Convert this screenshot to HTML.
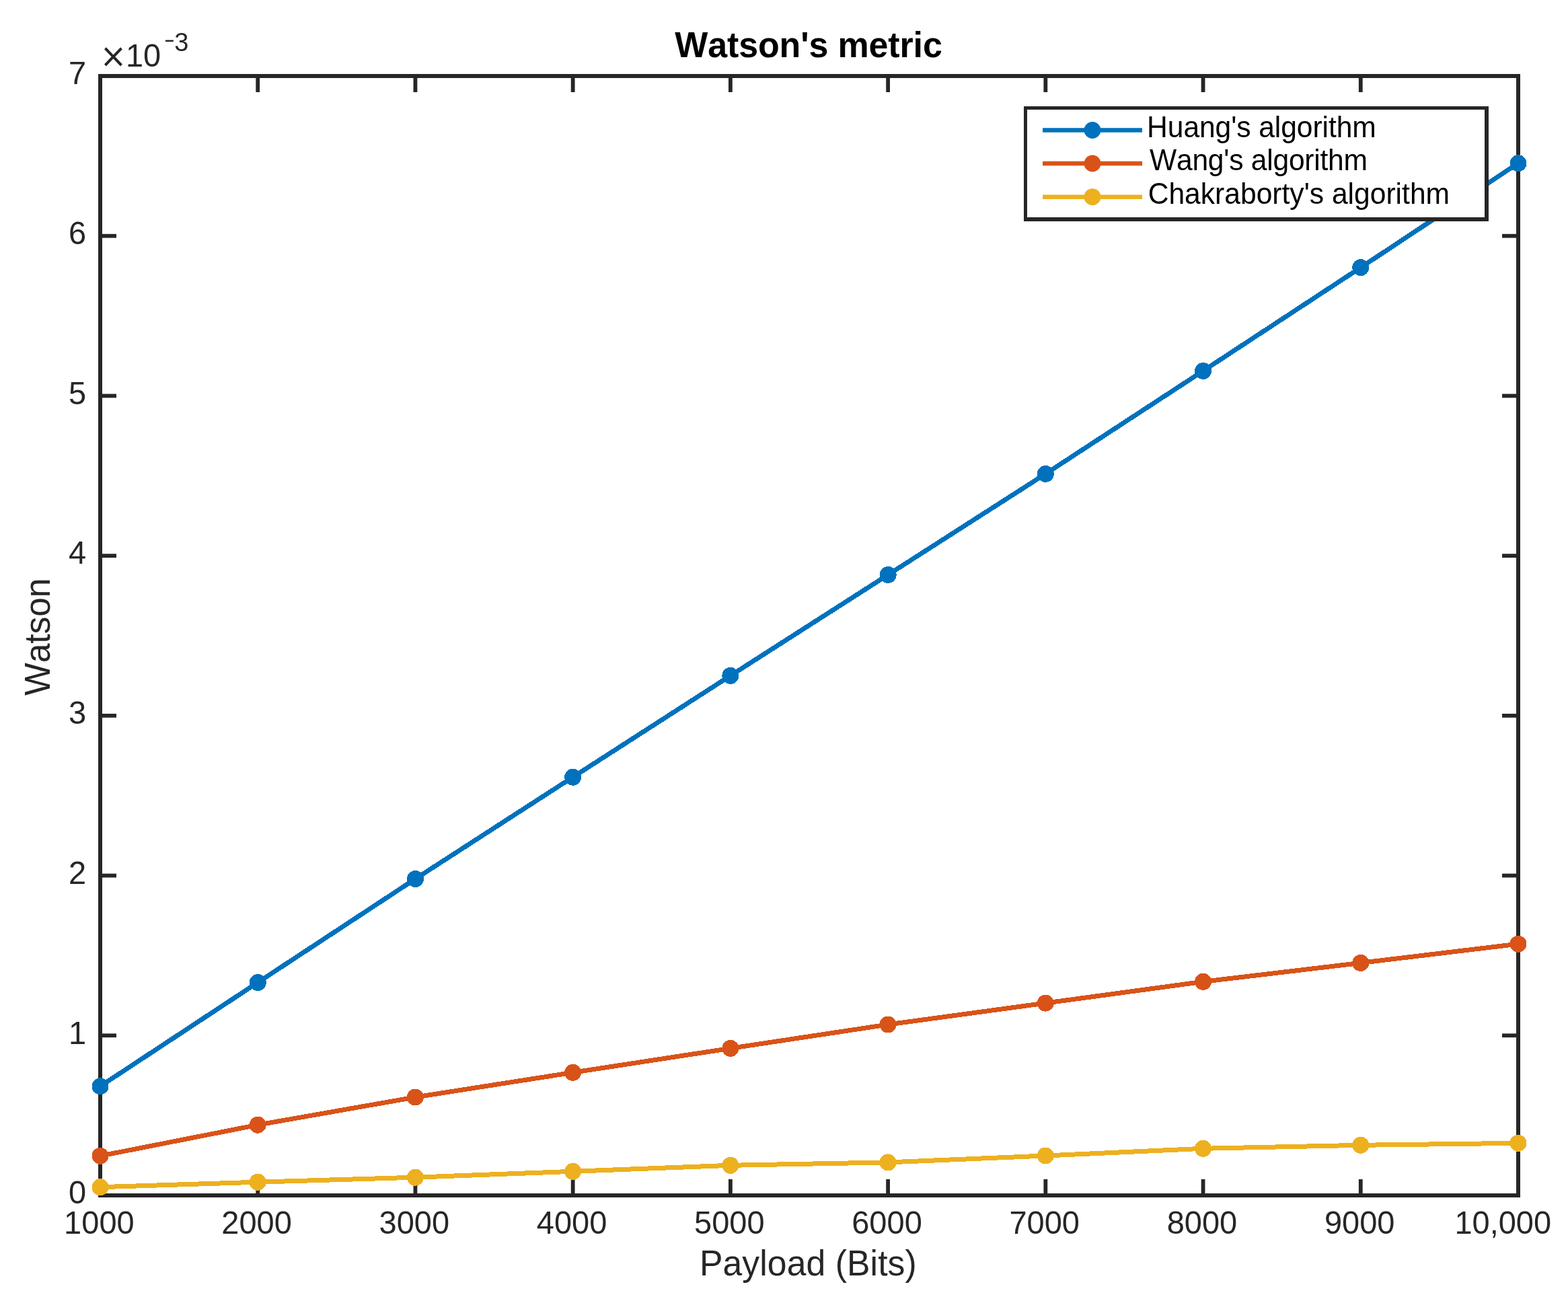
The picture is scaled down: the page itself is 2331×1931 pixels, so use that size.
<!DOCTYPE html>
<html lang="en"><head><meta charset="utf-8"><title>Watson's metric</title>
<style>
html,body{margin:0;padding:0;background:#fff;}
body{width:2331px;height:1931px;overflow:hidden;}
svg{display:block;}
text{font-family:"Liberation Sans",sans-serif;font-kerning:none;font-variant-ligatures:none;white-space:pre;}
.t{font-size:47px;fill:#262626;}
.l{font-size:51.7px;fill:#262626;}
.g{font-size:42.6px;fill:#000;}
.ttl{font-size:52px;font-weight:bold;fill:#000;}
.x{font-family:"DejaVu Sans","Liberation Sans",sans-serif;font-size:47.6px;fill:#262626;}
.e{font-size:38px;fill:#262626;}
</style></head><body>
<svg width="2331" height="1931" viewBox="0 0 2331 1931">
<rect x="0" y="0" width="2331" height="1931" fill="#fff"/>
<g stroke="#262626" stroke-width="5.8" fill="none">
<line x1="383.22" y1="1777.00" x2="383.22" y2="1753.00"/>
<line x1="383.22" y1="113.00" x2="383.22" y2="137.00"/>
<line x1="617.44" y1="1777.00" x2="617.44" y2="1753.00"/>
<line x1="617.44" y1="113.00" x2="617.44" y2="137.00"/>
<line x1="851.67" y1="1777.00" x2="851.67" y2="1753.00"/>
<line x1="851.67" y1="113.00" x2="851.67" y2="137.00"/>
<line x1="1085.89" y1="1777.00" x2="1085.89" y2="1753.00"/>
<line x1="1085.89" y1="113.00" x2="1085.89" y2="137.00"/>
<line x1="1320.11" y1="1777.00" x2="1320.11" y2="1753.00"/>
<line x1="1320.11" y1="113.00" x2="1320.11" y2="137.00"/>
<line x1="1554.33" y1="1777.00" x2="1554.33" y2="1753.00"/>
<line x1="1554.33" y1="113.00" x2="1554.33" y2="137.00"/>
<line x1="1788.56" y1="1777.00" x2="1788.56" y2="1753.00"/>
<line x1="1788.56" y1="113.00" x2="1788.56" y2="137.00"/>
<line x1="2022.78" y1="1777.00" x2="2022.78" y2="1753.00"/>
<line x1="2022.78" y1="113.00" x2="2022.78" y2="137.00"/>
<line x1="149.00" y1="1539.29" x2="173.00" y2="1539.29"/>
<line x1="2257.00" y1="1539.29" x2="2233.00" y2="1539.29"/>
<line x1="149.00" y1="1301.57" x2="173.00" y2="1301.57"/>
<line x1="2257.00" y1="1301.57" x2="2233.00" y2="1301.57"/>
<line x1="149.00" y1="1063.86" x2="173.00" y2="1063.86"/>
<line x1="2257.00" y1="1063.86" x2="2233.00" y2="1063.86"/>
<line x1="149.00" y1="826.14" x2="173.00" y2="826.14"/>
<line x1="2257.00" y1="826.14" x2="2233.00" y2="826.14"/>
<line x1="149.00" y1="588.43" x2="173.00" y2="588.43"/>
<line x1="2257.00" y1="588.43" x2="2233.00" y2="588.43"/>
<line x1="149.00" y1="350.71" x2="173.00" y2="350.71"/>
<line x1="2257.00" y1="350.71" x2="2233.00" y2="350.71"/>
</g>
<rect x="149" y="113" width="2108" height="1664" fill="none" stroke="#262626" stroke-width="6"/>
<polyline points="149.00,1614.80 383.22,1460.50 617.44,1306.50 851.67,1155.20 1085.89,1004.40 1320.11,854.50 1554.33,704.40 1788.56,551.40 2022.78,397.70 2257.00,242.70" fill="none" stroke="#0072BD" stroke-width="7" stroke-linejoin="round" shape-rendering="crispEdges"/>
<polyline points="149.00,1718.30 383.22,1672.20 617.44,1631.00 851.67,1594.30 1085.89,1558.40 1320.11,1523.00 1554.33,1491.10 1788.56,1459.30 2022.78,1431.40 2257.00,1403.20" fill="none" stroke="#D95319" stroke-width="7" stroke-linejoin="round" shape-rendering="crispEdges"/>
<polyline points="149.00,1764.70 383.22,1757.20 617.44,1750.20 851.67,1741.30 1085.89,1732.30 1320.11,1727.90 1554.33,1718.00 1788.56,1707.30 2022.78,1702.30 2257.00,1699.30" fill="none" stroke="#EDB120" stroke-width="7" stroke-linejoin="round" shape-rendering="crispEdges"/>
<g fill="#0072BD" shape-rendering="crispEdges">
<circle cx="149.00" cy="1614.80" r="12.5"/>
<circle cx="383.22" cy="1460.50" r="12.5"/>
<circle cx="617.44" cy="1306.50" r="12.5"/>
<circle cx="851.67" cy="1155.20" r="12.5"/>
<circle cx="1085.89" cy="1004.40" r="12.5"/>
<circle cx="1320.11" cy="854.50" r="12.5"/>
<circle cx="1554.33" cy="704.40" r="12.5"/>
<circle cx="1788.56" cy="551.40" r="12.5"/>
<circle cx="2022.78" cy="397.70" r="12.5"/>
<circle cx="2257.00" cy="242.70" r="12.5"/>
</g>
<g fill="#D95319" shape-rendering="crispEdges">
<circle cx="149.00" cy="1718.30" r="12.5"/>
<circle cx="383.22" cy="1672.20" r="12.5"/>
<circle cx="617.44" cy="1631.00" r="12.5"/>
<circle cx="851.67" cy="1594.30" r="12.5"/>
<circle cx="1085.89" cy="1558.40" r="12.5"/>
<circle cx="1320.11" cy="1523.00" r="12.5"/>
<circle cx="1554.33" cy="1491.10" r="12.5"/>
<circle cx="1788.56" cy="1459.30" r="12.5"/>
<circle cx="2022.78" cy="1431.40" r="12.5"/>
<circle cx="2257.00" cy="1403.20" r="12.5"/>
</g>
<g fill="#EDB120" shape-rendering="crispEdges">
<circle cx="149.00" cy="1764.70" r="12.5"/>
<circle cx="383.22" cy="1757.20" r="12.5"/>
<circle cx="617.44" cy="1750.20" r="12.5"/>
<circle cx="851.67" cy="1741.30" r="12.5"/>
<circle cx="1085.89" cy="1732.30" r="12.5"/>
<circle cx="1320.11" cy="1727.90" r="12.5"/>
<circle cx="1554.33" cy="1718.00" r="12.5"/>
<circle cx="1788.56" cy="1707.30" r="12.5"/>
<circle cx="2022.78" cy="1702.30" r="12.5"/>
<circle cx="2257.00" cy="1699.30" r="12.5"/>
</g>
<rect x="1522" y="158" width="691" height="171" fill="#fff"/>
<path d="M1522 158H2213V329H1522Z M1527 163V323H2207V163Z" fill="#262626" fill-rule="evenodd"/>
<line x1="1550" y1="193.5" x2="1698" y2="193.5" stroke="#0072BD" stroke-width="6.5"/>
<circle cx="1624" cy="193.5" r="12.5" fill="#0072BD"/>
<text class="g" transform="translate(1705.11,204.00) scale(1,1.02)" style="letter-spacing:-0.075px">Huang's algorithm</text>
<line x1="1550" y1="243" x2="1698" y2="243" stroke="#D95319" stroke-width="6.5"/>
<circle cx="1624" cy="243" r="12.5" fill="#D95319"/>
<text class="g" transform="translate(1709.01,253.10) scale(1,1.02)" style="letter-spacing:-0.244px">Wang's algorithm</text>
<line x1="1550" y1="292.7" x2="1698" y2="292.7" stroke="#EDB120" stroke-width="6.5"/>
<circle cx="1624" cy="292.7" r="12.5" fill="#EDB120"/>
<text class="g" transform="translate(1706.64,303.10) scale(1,1.02)" style="letter-spacing:0.003px">Chakraborty's algorithm</text>
<text class="ttl" transform="translate(1003.35,85.00) scale(1,1.045)" style="letter-spacing:-0.143px">Watson's metric</text>
<text class="t" transform="translate(95.12,1834.10) scale(1,1.04)">1000</text>
<text class="t" transform="translate(329.34,1834.10) scale(1,1.04)">2000</text>
<text class="t" transform="translate(563.57,1834.10) scale(1,1.04)">3000</text>
<text class="t" transform="translate(797.79,1834.10) scale(1,1.04)">4000</text>
<text class="t" transform="translate(1032.01,1834.10) scale(1,1.04)">5000</text>
<text class="t" transform="translate(1266.23,1834.10) scale(1,1.04)">6000</text>
<text class="t" transform="translate(1500.46,1834.10) scale(1,1.04)">7000</text>
<text class="t" transform="translate(1734.68,1834.10) scale(1,1.04)">8000</text>
<text class="t" transform="translate(1968.90,1834.10) scale(1,1.04)">9000</text>
<text class="t" transform="translate(2162.42,1834.10) scale(1,1.04)">10,000</text>
<text class="t" transform="translate(101.96,1789.30) scale(1,1.04)">0</text>
<text class="t" transform="translate(101.96,1551.59) scale(1,1.04)">1</text>
<text class="t" transform="translate(101.96,1313.87) scale(1,1.04)">2</text>
<text class="t" transform="translate(101.96,1076.16) scale(1,1.04)">3</text>
<text class="t" transform="translate(101.96,838.44) scale(1,1.04)">4</text>
<text class="t" transform="translate(101.96,600.73) scale(1,1.04)">5</text>
<text class="t" transform="translate(101.96,363.01) scale(1,1.04)">6</text>
<text class="t" transform="translate(101.96,125.30) scale(1,1.04)">7</text>
<text class="t" transform="scale(1,1.04)"><tspan class="x" x="148.5" y="95.87">×</tspan><tspan x="186.9" y="95.48">10</tspan><tspan class="e" x="243.74" y="66.33" style="font-size:30px" textLength="16.31" lengthAdjust="spacingAndGlyphs">-</tspan><tspan class="e" x="259.3" y="72.60">3</tspan></text>
<text class="l" transform="translate(1039.96,1895.60) scale(1,1.02)" style="letter-spacing:0.080px">Payload (Bits)</text>
<text class="l" transform="translate(73.9,1034.03) rotate(-90) scale(1,1.02)" style="letter-spacing:-0.117px">Watson</text>
</svg></body></html>
